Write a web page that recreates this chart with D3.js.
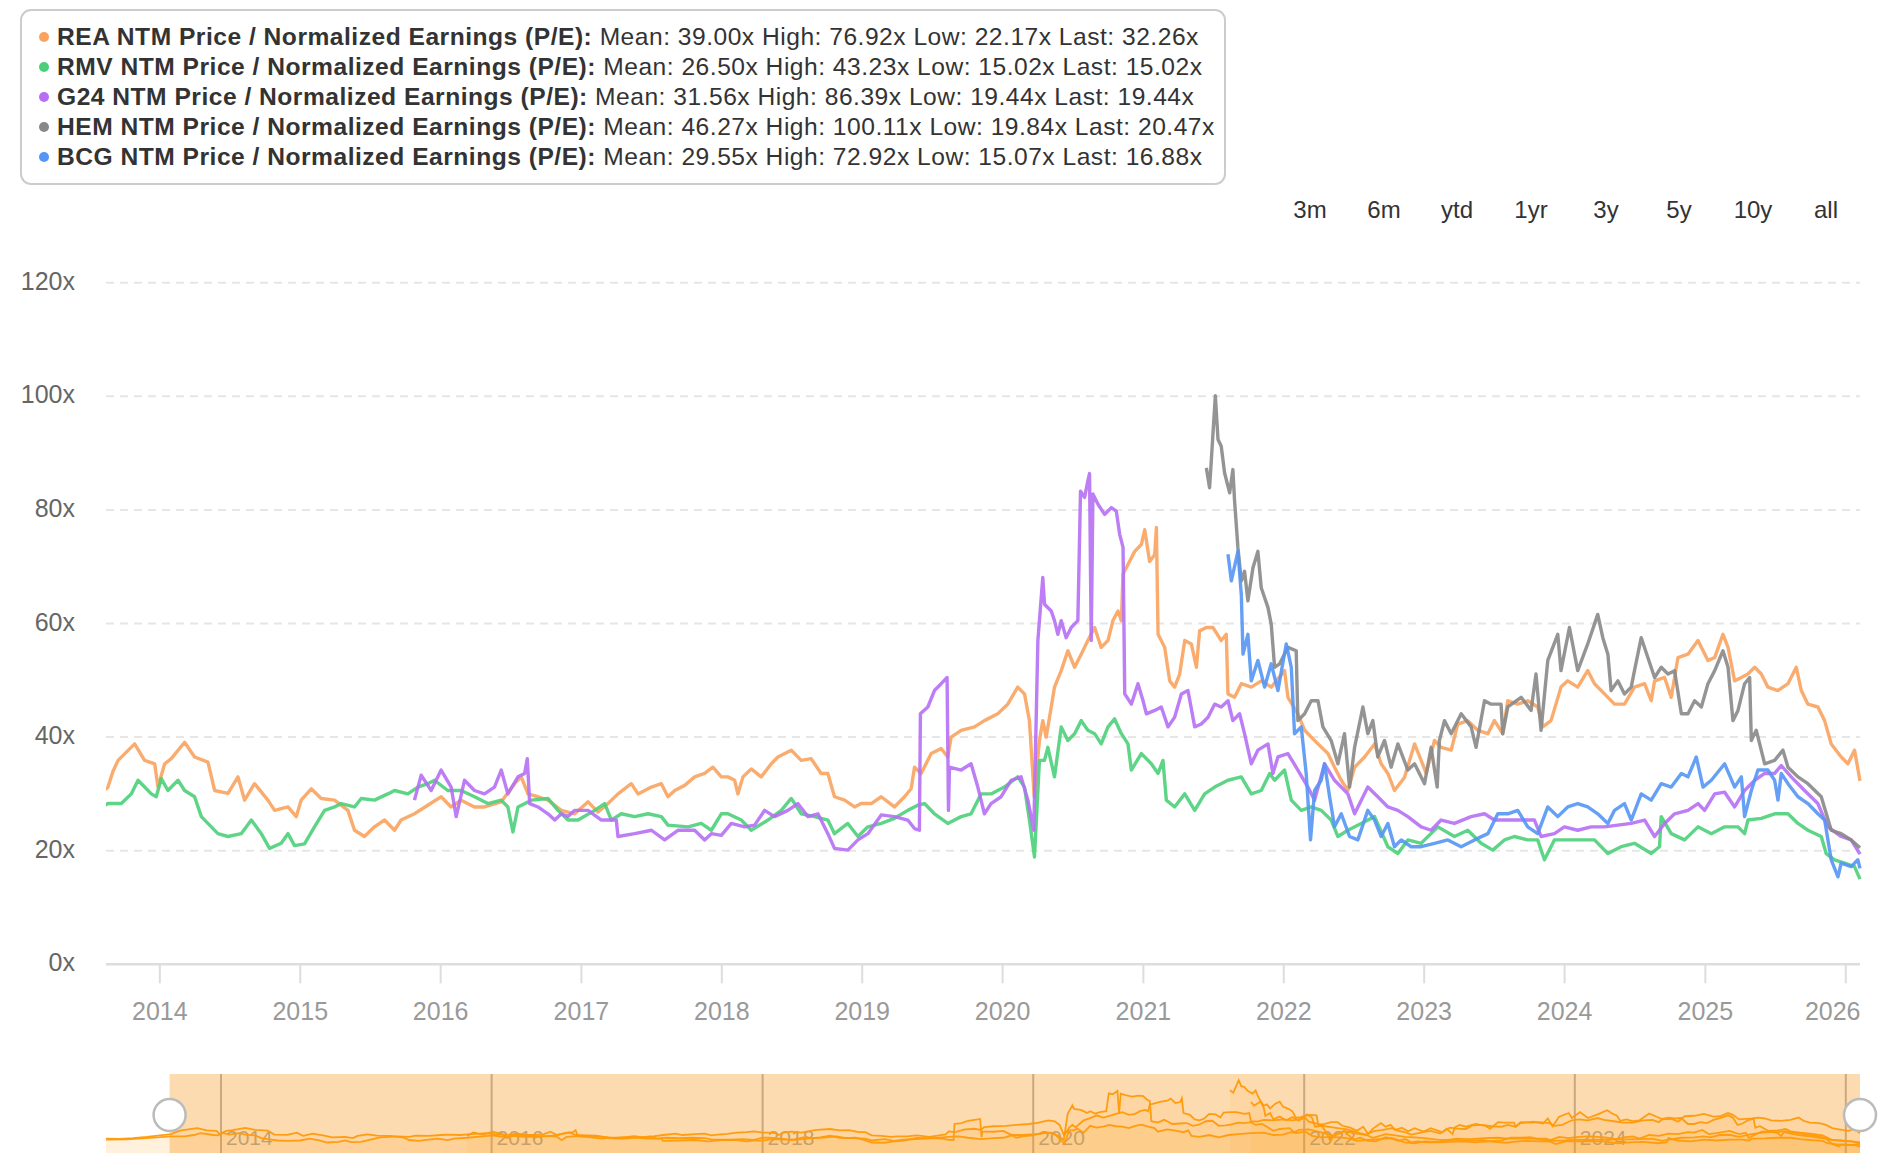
<!DOCTYPE html>
<html><head><meta charset="utf-8">
<script src="https://cdn.jsdelivr.net/npm/d3@7"></script>
<style>html,body{margin:0;padding:0;background:#fff;}svg{display:block;font-family:"Liberation Sans",Arial,Helvetica,sans-serif;}</style>
</head><body>
<svg id="chart" width="1882" height="1172"></svg>
<script>
// ---------------- DATA ----------------
const tickers = ["REA","RMV","G24","HEM","BCG"];
const seriesColors = ["#f9a35f","#4ccf7a","#b56ff4","#888888","#5596f4"];
const meanVals = ["39.00x","26.50x","31.56x","46.27x","29.55x"];
const highVals = ["76.92x","43.23x","86.39x","100.11x","72.92x"];
const lowVals  = ["22.17x","15.02x","19.44x","19.84x","15.07x"];
const lastVals = ["32.26x","15.02x","19.44x","20.47x","16.88x"];
const rangeButtons = ["3m","6m","ytd","1yr","3y","5y","10y","all"];
const yTicks = [0,20,40,60,80,100,120];

// [decimal year, P/E]
const reaData = [
[2013.15,25.5],[2013.25,25],[2013.35,26],[2013.45,27.5],[2013.55,29.5],
[2013.634,31.2],[2013.670,34],[2013.706,35.9],[2013.824,38.8],[2013.895,35.9],[2013.967,35.3],[2013.990,31.2],[2014.038,35.3],[2014.085,36.2],[2014.180,39.1],[2014.251,36.5],[2014.346,35.6],[2014.394,30.6],[2014.489,30.1],[2014.560,33],[2014.607,28.9],[2014.678,31.8],[2014.773,28.9],[2014.821,27.1],[2014.916,27.7],[2014.975,26],[2015.010,28.9],[2015.082,30.9],[2015.153,29.2],[2015.248,28.9],[2015.343,27.1],[2015.390,23.6],[2015.461,22.5],[2015.532,24.2],[2015.604,25.4],[2015.675,23.6],[2015.722,25.4],[2015.817,26.5],[2015.912,28],[2016.007,29.5],[2016.078,27.7],[2016.149,28.9],[2016.244,27.7],[2016.315,27.7],[2016.434,28.6],[2016.529,31.8],[2016.576,33],[2016.624,30],[2016.695,29.5],[2016.766,28.9],[2016.861,27.1],[2016.956,26.5],
[2017.051,28.6],[2017.122,26.8],[2017.193,28.3],[2017.264,30],[2017.359,31.8],[2017.407,30],[2017.502,31.2],[2017.573,31.8],[2017.620,29.5],[2017.668,30.6],[2017.739,31.5],[2017.810,33],[2017.881,33.6],[2017.940,34.7],[2018.000,33],[2018.047,33],[2018.095,32.4],[2018.118,30],[2018.154,33],[2018.213,34.4],[2018.284,33],[2018.356,35.3],[2018.403,36.5],[2018.498,37.7],[2018.569,35.9],[2018.640,36.2],[2018.711,33.6],[2018.759,33.6],[2018.806,29.5],[2018.878,28.9],[2018.949,27.7],[2018.996,28.3],[2019.068,28.3],[2019.139,29.5],[2019.233,27.7],[2019.305,29.5],[2019.352,30.9],[2019.376,34.7],[2019.423,33.6],[2019.495,37.1],[2019.566,38],[2019.613,36.5],[2019.637,40],[2019.708,41.2],[2019.803,41.8],[2019.874,42.9],[2019.969,44.1],[2020.040,45.8],[2020.111,48.8],[2020.159,47.6],[2020.194,42.9],[2020.228,29.5],
[2020.265,39.4],[2020.289,42.9],[2020.313,40],[2020.349,45.3],[2020.372,48.8],[2020.420,51.7],[2020.467,55.2],[2020.515,52.3],[2020.562,54.6],[2020.609,57],[2020.657,59.3],[2020.704,55.8],[2020.752,57],[2020.787,60.5],[2020.823,62.2],[2020.847,60.5],[2020.859,68.7],[2020.894,70.4],[2020.942,72.7],[2020.989,73.9],[2021.013,76.5],[2021.048,70.9],[2021.084,72.1],[2021.096,76.9],[2021.108,58.1],[2021.155,55.8],[2021.191,49.9],[2021.226,48.8],[2021.262,51.1],[2021.298,57],[2021.345,56.4],[2021.381,52.3],[2021.404,58.7],[2021.452,59.3],[2021.499,59.3],[2021.558,57],[2021.594,58.1],[2021.606,47.6],[2021.653,47],[2021.701,49.4],[2021.772,48.8],[2021.843,49.9],[2021.914,48.8],[2022.009,51.7],[2022.033,47],[2022.104,44.1],[2022.152,41.2],[2022.199,40],[2022.247,38.8],[2022.318,37.1],[2022.365,34.7],[2022.413,32.4],[2022.460,30.6],[2022.508,34.7],[2022.579,36.5],[2022.650,38.8],[2022.697,35.3],[2022.745,33.6],[2022.792,30.6],[2022.863,32.9],[2022.935,38.8],[2022.982,35.9],[2023.018,33.6],
[2023.077,39.4],[2023.124,38.2],[2023.196,37.7],[2023.243,42.3],[2023.314,42.9],[2023.385,41.2],[2023.457,40.6],[2023.504,42.9],[2023.563,40.6],[2023.599,46.4],[2023.670,45.8],[2023.741,46.4],[2023.812,45.3],[2023.848,41.8],[2023.907,42.9],[2023.978,48.8],[2024.026,49.9],[2024.097,48.8],[2024.168,51.7],[2024.216,49.4],[2024.287,47.6],[2024.358,45.8],[2024.429,45.8],[2024.500,48.8],[2024.572,49.4],[2024.619,46.4],[2024.643,49.9],[2024.714,50.5],[2024.761,47],[2024.809,54],[2024.880,54.6],[2024.951,57],[2025.022,53.5],[2025.070,54],[2025.129,58.1],[2025.165,55.8],[2025.212,49.9],[2025.260,50.5],[2025.307,51.1],[2025.355,52.3],[2025.402,51.1],[2025.449,48.8],[2025.520,48.2],[2025.592,49.4],[2025.651,52.3],[2025.687,48.2],[2025.734,45.8],[2025.805,45.3],[2025.853,42.9],[2025.900,38.8],[2025.971,36.5],[2026.019,35.3],[2026.066,37.7],[2026.105,32.3]
];

const rmvData = [
[2013.15,24],[2013.3,24.5],[2013.45,26],[2013.58,27.5],
[2013.634,28.3],[2013.729,28.3],[2013.800,30],[2013.848,32.4],[2013.943,30],[2013.978,29.5],[2014.014,32.7],[2014.061,30.6],[2014.133,32.4],[2014.180,30.6],[2014.251,29.5],[2014.299,26],[2014.370,24.2],[2014.417,23],[2014.489,22.5],[2014.583,23],[2014.655,25.4],[2014.726,23],[2014.785,20.4],[2014.868,21.3],[2014.916,23],[2014.963,20.9],[2015.034,21.2],[2015.105,24.2],[2015.177,27.1],[2015.248,27.7],[2015.295,28.3],[2015.390,27.7],[2015.438,29.2],[2015.532,28.9],[2015.627,30],[2015.675,30.6],[2015.770,30],[2015.841,31.2],[2015.912,31.8],[2015.960,32.4],[2016.054,30.6],[2016.149,30.6],[2016.244,29.5],[2016.339,28.3],[2016.434,28.9],[2016.481,27.7],[2016.517,23.3],[2016.553,27.7],[2016.648,28.9],[2016.766,29.2],[2016.837,27.1],[2016.908,25.4],
[2016.980,25.4],[2017.098,27.1],[2017.169,28.3],[2017.217,25.4],[2017.288,26.5],[2017.383,26],[2017.478,26.5],[2017.573,26],[2017.620,24.5],[2017.763,24.2],[2017.857,24.8],[2017.929,23.6],[2018.000,26.5],[2018.047,26.5],[2018.142,25.4],[2018.213,23.6],[2018.332,25.4],[2018.427,27.1],[2018.498,29.2],[2018.569,26.5],[2018.664,26],[2018.759,25.4],[2018.806,23],[2018.901,24.8],[2018.973,22.5],[2019.044,24.2],[2019.139,24.8],[2019.233,25.7],[2019.328,27.1],[2019.399,28],[2019.447,28.3],[2019.518,26.5],[2019.613,24.8],[2019.708,26],[2019.779,26.5],[2019.850,30],[2019.921,30],[2020.016,31.2],[2020.111,33],[2020.159,31.2],[2020.194,25.4],[2020.230,18.9],
[2020.265,35.9],[2020.301,35.9],[2020.325,38.2],[2020.372,33],[2020.420,41.8],[2020.467,39.4],[2020.515,40.6],[2020.562,42.9],[2020.609,41.2],[2020.657,40.6],[2020.704,38.8],[2020.752,41.8],[2020.799,43.2],[2020.847,40.6],[2020.894,38.8],[2020.918,34.2],[2020.989,37.1],[2021.060,35.3],[2021.108,33.6],[2021.143,35.9],[2021.167,28.9],[2021.226,27.7],[2021.298,30],[2021.369,27.1],[2021.440,30],[2021.511,31.2],[2021.606,32.4],[2021.701,33],[2021.772,30],[2021.843,30.6],[2021.903,33.6],[2021.938,32.4],[2022.009,34.2],[2022.057,28.9],[2022.128,27.1],[2022.199,27.7],[2022.270,27.1],[2022.341,25.4],[2022.389,22.5],[2022.460,23.6],[2022.555,24.8],[2022.650,26],[2022.745,20.7],[2022.816,19.5],[2022.887,21.9],[2022.982,21.3],
[2023.101,24.2],[2023.219,22.5],[2023.314,23.6],[2023.409,21.3],[2023.492,20.1],[2023.575,21.9],[2023.646,22.5],[2023.741,21.9],[2023.812,21.9],[2023.860,18.4],[2023.931,21.9],[2024.026,21.9],[2024.121,21.9],[2024.216,21.9],[2024.311,19.5],[2024.405,20.7],[2024.500,21.3],[2024.619,19.5],[2024.678,20.7],[2024.690,26],[2024.761,23],[2024.856,21.9],[2024.951,24.2],[2025.046,23],[2025.141,24.2],[2025.236,24.2],[2025.283,23],[2025.307,25.4],[2025.402,25.7],[2025.497,26.5],[2025.592,26.5],[2025.663,24.8],[2025.734,23.6],[2025.829,22.5],[2025.864,19.5],[2025.924,18.4],[2025.995,17.8],[2026.066,17.2],[2026.105,15.0]
];

const g24Data = [
[2015.817,28.9],[2015.865,33.3],[2015.936,30.6],[2016.007,34.2],[2016.078,31.2],[2016.114,26],[2016.173,32.4],[2016.244,30.6],[2016.315,30],[2016.386,31.2],[2016.434,34.2],[2016.481,30],[2016.553,33],[2016.600,33.6],[2016.619,36.2],[2016.636,28.3],[2016.695,27.7],[2016.766,26.5],[2016.814,25.4],[2016.861,26.5],[2016.908,26],
[2016.956,27.1],[2017.051,27.1],[2017.146,25.4],[2017.252,25.4],[2017.264,22.5],[2017.383,23],[2017.502,23.6],[2017.596,21.9],[2017.691,23.6],[2017.810,23.6],[2017.881,21.9],[2017.929,23],[2018.000,22.7],[2018.071,24.8],[2018.166,24.2],[2018.237,24.5],[2018.308,27.1],[2018.379,26],[2018.474,27.1],[2018.545,28.3],[2018.617,26],[2018.688,26.5],[2018.759,23],[2018.806,20.4],[2018.901,20.1],[2018.973,21.9],[2019.044,23],[2019.139,26.3],[2019.233,26],[2019.328,25.4],[2019.376,23.9],[2019.411,23.6],[2019.418,44.1],[2019.471,45.3],[2019.518,48.2],[2019.566,49.4],[2019.608,50.5],[2019.618,27.1],[2019.625,34.7],[2019.708,34.2],[2019.779,35.3],[2019.827,31.2],[2019.874,26.5],[2019.921,28.3],[2019.993,29.5],[2020.064,32.4],[2020.135,33],[2020.183,28.9],[2020.225,23.6],
[2020.254,57],[2020.289,68.1],[2020.301,63.4],[2020.349,62.2],[2020.372,60.5],[2020.396,58.1],[2020.420,60.5],[2020.455,57.5],[2020.491,59.3],[2020.538,60.5],[2020.557,83.3],[2020.586,82.2],[2020.609,85.1],[2020.621,86.4],[2020.633,57],[2020.645,82.8],[2020.681,81],[2020.728,79.2],[2020.776,80.4],[2020.811,79.8],[2020.835,75.7],[2020.859,73.4],[2020.871,47.6],[2020.918,45.8],[2020.965,49.4],[2021.001,46.4],[2021.025,44.1],[2021.084,44.7],[2021.131,45.3],[2021.179,41.8],[2021.226,43.5],[2021.274,47.6],[2021.321,48.2],[2021.369,41.8],[2021.416,42.3],[2021.464,43.5],[2021.511,45.8],[2021.558,45.3],[2021.606,46.4],[2021.641,42.9],[2021.689,44.1],[2021.724,40.6],[2021.772,35.3],[2021.819,37.7],[2021.891,38.8],[2021.926,33.6],[2021.962,36.5],[2022.033,37.1],[2022.104,34.2],[2022.175,31.2],[2022.223,28.9],[2022.294,35.3],[2022.365,32.4],[2022.460,30],[2022.508,26.5],[2022.602,31.2],[2022.673,29.5],[2022.745,27.7],[2022.816,27.1],[2022.887,26],[2022.982,24.2],[2023.053,23.6],[2023.124,25.4],
[2023.219,24.8],[2023.338,26],[2023.433,26.5],[2023.504,25.4],[2023.599,25.4],[2023.694,25.4],[2023.789,25.4],[2023.836,22.5],[2023.931,23],[2024.002,24.2],[2024.097,23.6],[2024.192,24.2],[2024.287,24.2],[2024.382,24.5],[2024.477,24.8],[2024.572,25.4],[2024.643,22.5],[2024.714,24.8],[2024.785,26.5],[2024.880,27.1],[2024.951,28.3],[2024.998,27.1],[2025.070,30],[2025.141,30.3],[2025.212,27.7],[2025.283,30.6],[2025.355,32.4],[2025.426,33.6],[2025.497,33.6],[2025.544,35],[2025.615,33],[2025.710,30.6],[2025.805,28.3],[2025.876,24.2],[2025.971,22.5],[2026.042,21.9],[2026.105,19.4]
];

const hemData = [
[2021.452,87.4],[2021.475,83.9],[2021.487,88.6],[2021.516,100.1],[2021.535,92.4],[2021.558,91.2],[2021.582,86.5],[2021.618,83],[2021.641,87.1],[2021.653,81.6],[2021.677,73.3],[2021.701,67.5],[2021.724,69.2],[2021.748,64],[2021.784,69.8],[2021.819,72.7],[2021.843,66.3],[2021.891,62.8],[2021.914,59.9],[2021.938,52.3],[2021.974,52.9],[2022.033,55.8],[2022.092,55.2],[2022.104,42.9],[2022.152,44.1],[2022.199,46.4],[2022.247,46.4],[2022.282,41.8],[2022.341,39.4],[2022.389,35.3],[2022.436,40.6],[2022.472,31.2],[2022.508,38.2],[2022.567,45.3],[2022.602,40.6],[2022.638,42.9],[2022.673,36.5],[2022.721,39.4],[2022.768,34.7],[2022.816,38.8],[2022.887,34.2],[2022.935,35.3],[2023.006,31.8],[2023.053,38.2],[2023.096,31.2],[2023.112,39.4],
[2023.148,42.9],[2023.196,40.6],[2023.267,44.1],[2023.338,41.8],[2023.373,38.2],[2023.433,46.4],[2023.480,45.8],[2023.551,45.8],[2023.563,40.6],[2023.599,45.3],[2023.694,47],[2023.765,44.7],[2023.800,51.1],[2023.836,41.2],[2023.884,53.5],[2023.955,58.1],[2023.978,51.7],[2024.038,59.3],[2024.097,51.7],[2024.168,56.4],[2024.239,61.6],[2024.275,57.5],[2024.311,54.6],[2024.334,48.2],[2024.382,49.9],[2024.429,47.6],[2024.477,48.8],[2024.500,51.7],[2024.548,57.5],[2024.595,54],[2024.643,50.5],[2024.690,52.3],[2024.738,51.1],[2024.785,51.7],[2024.833,44.1],[2024.880,44.1],[2024.927,46.4],[2024.975,45.3],[2025.022,49.4],[2025.070,51.7],[2025.129,55.2],[2025.165,52.3],[2025.200,42.9],[2025.236,44.7],[2025.283,49.4],[2025.319,50.5],[2025.331,39.4],[2025.366,41.2],[2025.426,35.3],[2025.497,35.9],[2025.556,37.7],[2025.592,34.7],[2025.663,33],[2025.734,31.8],[2025.829,29.5],[2025.900,23.6],[2025.971,23],[2026.042,21.9],[2026.105,20.5]
];

const bcgData = [
[2021.606,72.2],[2021.630,67.5],[2021.677,72.7],[2021.701,65.1],[2021.713,54.6],[2021.748,58.1],[2021.772,49.9],[2021.819,53.5],[2021.867,48.8],[2021.914,52.9],[2021.962,48.2],[2022.021,56.4],[2022.057,52.3],[2022.080,40.6],[2022.128,41.8],[2022.163,33.6],[2022.194,21.9],[2022.223,30.6],[2022.270,32.4],[2022.294,35.3],[2022.330,29.5],[2022.365,24.2],[2022.413,26.5],[2022.472,22.5],[2022.531,21.9],[2022.602,27.1],[2022.650,25.4],[2022.697,22.5],[2022.745,24.8],[2022.792,20.7],[2022.840,21.9],[2022.911,20.7],[2022.982,20.7],[2023.077,21.3],
[2023.172,21.9],[2023.267,20.7],[2023.362,21.9],[2023.457,23],[2023.528,26.5],[2023.599,26.5],[2023.670,27.1],[2023.741,24.2],[2023.812,23],[2023.884,27.7],[2023.955,26],[2024.026,27.7],[2024.097,28.3],[2024.168,27.7],[2024.239,26.5],[2024.311,24.8],[2024.358,27.1],[2024.429,28.3],[2024.477,25.4],[2024.548,30],[2024.619,28.9],[2024.690,31.8],[2024.761,31.2],[2024.833,33.6],[2024.880,33],[2024.939,36.5],[2024.987,31.2],[2025.046,32.4],[2025.141,35.3],[2025.212,31.2],[2025.260,33],[2025.283,26],[2025.331,30.6],[2025.378,34.2],[2025.449,34.2],[2025.497,32.4],[2025.521,28.9],[2025.544,33.6],[2025.592,31.8],[2025.663,29.5],[2025.734,28.3],[2025.805,26.5],[2025.853,25.4],[2025.900,18.4],[2025.948,15.4],[2025.971,17.8],[2026.042,17.2],[2026.090,18.4],[2026.105,16.9]
];

const allSeries = [reaData, rmvData, g24Data, hemData, bcgData];

// ---------------- HELPERS ----------------
function toDate(y){
  const yr = Math.floor(y);
  const s = Date.UTC(yr,0,1), e = Date.UTC(yr+1,0,1);
  return new Date(s + (y-yr)*(e-s));
}
const FONT = '"Liberation Sans",Arial,Helvetica,sans-serif';
const svg = d3.select("#chart");

// ---------------- SCALES ----------------
const plotL = 106, plotR = 1860, plotT = 282.7, plotB = 964.3;
const x = d3.scaleUtc().domain([toDate(2013.62), toDate(2026.105)]).range([plotL, plotR]);
const y = d3.scaleLinear().domain([0,120]).range([plotB, plotT]);

// ---------------- LEGEND ----------------
const lg = svg.append("g");
lg.append("rect").attr("x",21).attr("y",10).attr("width",1204).attr("height",174)
  .attr("rx",10).attr("fill","#fff").attr("stroke","#cccccc").attr("stroke-width",2);
tickers.forEach((t,i)=>{
  const by = 45 + i*30;
  lg.append("circle").attr("cx",44).attr("cy",by-8).attr("r",5).attr("fill",seriesColors[i]);
  const tx = lg.append("text").attr("x",57).attr("y",by)
    .attr("font-size",24.6).attr("letter-spacing",0.5).attr("fill","#333").attr("font-family",FONT);
  tx.append("tspan").attr("font-weight","bold").text(`${t} NTM Price / Normalized Earnings (P/E):`);
  tx.append("tspan").text(` Mean: ${meanVals[i]} High: ${highVals[i]} Low: ${lowVals[i]} Last: ${lastVals[i]}`);
});

// ---------------- RANGE BUTTONS ----------------
const btnX = [1310,1384,1457,1531,1606,1679,1753,1826];
rangeButtons.forEach((b,i)=>{
  svg.append("text").attr("x",btnX[i]).attr("y",218).attr("text-anchor","middle")
    .attr("font-size",24).attr("fill","#333").attr("font-family",FONT).text(b);
});

// ---------------- GRID & AXES ----------------
const grid = svg.append("g");
yTicks.filter(v=>v>0).forEach(v=>{
  grid.append("line").attr("x1",plotL).attr("x2",plotR).attr("y1",y(v)).attr("y2",y(v))
    .attr("stroke","#e6e6e6").attr("stroke-width",2).attr("stroke-dasharray","8,6");
});
const yAx = svg.append("g").attr("transform",`translate(${plotL-31},0)`)
  .call(d3.axisLeft(y).tickValues(yTicks).tickSize(0).tickPadding(0).tickFormat(d=>d+"x"));
yAx.select(".domain").remove();
yAx.selectAll("text").attr("font-size",25).attr("fill","#666").attr("font-family",FONT)
  .attr("dy","0.26em").attr("dx",0).attr("text-anchor","end");

const xAx = svg.append("g").attr("transform",`translate(0,${plotB})`)
  .call(d3.axisBottom(x).ticks(d3.utcYear.every(1)).tickSize(19).tickPadding(0).tickFormat(d3.utcFormat("%Y")));
xAx.select(".domain").attr("stroke","#dddddd").attr("stroke-width",2.5).attr("d",`M${plotL},0H${plotR}`);
xAx.selectAll(".tick line").attr("stroke","#dddddd").attr("stroke-width",2);
xAx.selectAll(".tick text").attr("font-size",25).attr("fill","#999").attr("font-family",FONT)
  .attr("y",56).attr("dy",0);
// keep the last label inside the plot width, as the original does
xAx.selectAll(".tick").each(function(d){
  const tx = x(d);
  if (tx + 28 > plotR) d3.select(this).select("text").attr("text-anchor","end").attr("x", plotR - tx);
});

// ---------------- LINES ----------------
svg.append("clipPath").attr("id","plotClip").append("rect")
  .attr("x",plotL).attr("y",plotT-20).attr("width",plotR-plotL+2).attr("height",plotB-plotT+20);
const line = d3.line().x(d=>x(toDate(d[0]))).y(d=>y(d[1]));
const lines = svg.append("g").attr("clip-path","url(#plotClip)");
allSeries.forEach((s,i)=>{
  lines.append("path").datum(s).attr("d",line).attr("fill","none")
    .attr("stroke",seriesColors[i]).attr("stroke-width",3.4).attr("stroke-opacity",0.9)
    .attr("stroke-linejoin","round");
});

// ---------------- NAVIGATOR ----------------
const navT = 1074, navB = 1153;
const nx = d3.scaleUtc().domain([toDate(2013.15), toDate(2026.105)]).range([plotL, plotR]);
const ny = d3.scaleLinear().domain([7,108]).range([navB, navT]);
const nav = svg.append("g");
const selL = nx(x.domain()[0]);
nav.append("rect").attr("x",selL).attr("y",navT).attr("width",plotR-selL).attr("height",navB-navT).attr("fill","#fddbb0");
nx.ticks(d3.utcYear.every(2)).forEach(d=>{
  const xx = nx(d);
  if (xx < selL) return;
  nav.append("line").attr("x1",xx).attr("x2",xx).attr("y1",navT).attr("y2",navB)
    .attr("stroke","#8c6a46").attr("stroke-opacity",0.45).attr("stroke-width",2);
  if (xx + 60 < plotR) {
    nav.append("text").attr("x",xx+5).attr("y",1145).attr("font-size",21).attr("font-family",FONT)
      .attr("fill","#8c7a66").attr("fill-opacity",0.6).text(d3.utcFormat("%Y")(d));
  }
});
const narea = d3.area().x(d=>nx(toDate(d[0]))).y0(navB).y1(d=>ny(d[1]));
const nline = d3.line().x(d=>nx(toDate(d[0]))).y(d=>ny(d[1]));
allSeries.forEach(s=>{
  nav.append("path").datum(s).attr("d",narea).attr("fill","#ff9900").attr("fill-opacity",0.07);
});
allSeries.forEach(s=>{
  nav.append("path").datum(s).attr("d",nline).attr("fill","none")
    .attr("stroke","#ff9a0a").attr("stroke-width",1.8).attr("stroke-opacity",0.95);
});
[selL, plotR].forEach(hx=>{
  nav.append("circle").attr("cx",hx).attr("cy",1115).attr("r",16)
    .attr("fill","#fff").attr("stroke","#bbbbbb").attr("stroke-width",2.5);
});
</script>
</body></html>
